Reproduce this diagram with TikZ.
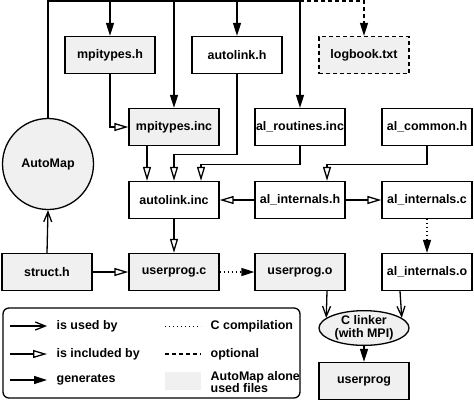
\documentclass[tikz,border=0pt]{standalone}
\usepackage{fontspec}
\setmainfont{Liberation Sans}
\usetikzlibrary{arrows.meta,shapes.geometric}

\definecolor{amgray}{gray}{0.94}

\begin{document}
\begin{tikzpicture}[
    x=1bp,
    y=-1bp,
    font=\fontsize{12.5}{14}\selectfont\bfseries,
    line width=1.3bp,
    file/.style={
        draw,
        minimum width=90bp,
        minimum height=37bp,
        inner sep=0pt
    },
    amfile/.style={file, fill=amgray},
    usedby/.style={-{Straight Barb[length=10bp,width=8bp]}},
    inclby/.style={-{Triangle[open,length=14bp,width=8bp,fill=white]}},
    gen/.style={-{Triangle[length=13bp,width=8bp]}},
    ccomp/.style={dash pattern=on 1bp off 3bp},
    optional/.style={dash pattern=on 4bp off 3bp},
    legtext/.style={anchor=west, inner sep=0pt}
]
\useasboundingbox (0,0) rectangle (474,400);

% Files, row by row
\node[amfile] (mpitypesh) at (110,55) {mpitypes.h};
\node[file] (autolinkh) at (237,55) {autolink.h};
\node[amfile,optional] (logbook) at (364,55) {logbook.txt};

\node[amfile] (mpitypesinc) at (174,127) {mpitypes.inc};
\node[file] (alroutines) at (300,127) {al\_routines.inc};
\node[file] (alcommon) at (427,127) {al\_common.h};

\node[file] (autolinkinc) at (174,200) {autolink.inc};
\node[file] (alinth) at (300,200) {al\_internals.h};
\node[file] (alintc) at (427,200) {al\_internals.c};

\node[amfile] (structh) at (47,272) {struct.h};
\node[amfile] (userprogc) at (174,272) {userprog.c};
\node[amfile] (userprogo) at (300,272) {userprog.o};
\node[file] (alinto) at (427,272) {al\_internals.o};

\node[amfile] (userprog) at (364,381) {userprog};

% AutoMap tool and the linker
\node[draw, circle, fill=amgray, minimum size=91bp, inner sep=0pt]
    (automap) at (48,164) {AutoMap};
\node[draw, ellipse, fill=amgray, minimum width=90bp, minimum height=34bp,
    inner sep=0pt, align=center, font=\fontsize{12.5}{13}\selectfont\bfseries]
    (clinker) at (364,328) {C linker\\(with MPI)};

% Files generated by AutoMap
\coordinate (topline) at (0,1);
\draw (automap.north) -- (automap.north |- topline)
    -- (alroutines.north |- topline);
\foreach \f in {mpitypesh,mpitypesinc,autolinkh,alroutines}
    \draw[gen] (\f.north |- topline) -- (\f.north);
\draw[gen,optional] (alroutines.north |- topline) -| (logbook.north);

% Includes
\draw[inclby] (mpitypesh.south) |- (mpitypesinc.west);
\draw[inclby] ([xshift=-27bp]mpitypesinc.south)
    -- ([xshift=-27bp]autolinkinc.north);
\draw[inclby] (autolinkh.south) -- ++(0,80) -| (autolinkinc.north);
\draw[inclby] (alroutines.south) -- ++(0,18)
    -| ([xshift=27bp]autolinkinc.north);
\draw[inclby] (alcommon.south) -- ++(0,18)
    -| ([xshift=27bp]alinth.north);
\draw[inclby] (alinth.west) -- (autolinkinc.east);
\draw[inclby] (alinth.east) -- (alintc.west);
\draw[inclby] (autolinkinc.south) -- (userprogc.north);
\draw[inclby] (structh.east) -- (userprogc.west);

% Usage
\draw[usedby] (structh.north) -- (automap.south);
\draw[usedby] ([xshift=27bp]userprogo.south) -- (clinker.165);
\draw[usedby] ([xshift=-27bp]alinto.south) -- (clinker.15);

% Compilation and linking
\draw[gen,ccomp] (userprogc.east) -- (userprogo.west);
\draw[gen,ccomp] (alintc.south) -- (alinto.north);
\draw[gen] (clinker.south) -- (userprog.north);

% Legend
\node[draw, rounded corners=6bp, minimum width=297bp, minimum height=90bp,
    inner sep=0pt] (legend) at (151.5,353) {};

\node[legtext] (lgused) at (56,326) {is used by};
\node[legtext] (lgincl) at (56,354) {is included by};
\node[legtext] (lggen) at (56,380) {generates};
\draw[usedby] ([xshift=-46bp]lgused.west) -- ([xshift=-9bp]lgused.west);
\draw[inclby] ([xshift=-46bp]lgincl.west) -- ([xshift=-9bp]lgincl.west);
\draw[gen] ([xshift=-46bp]lggen.west) -- ([xshift=-9bp]lggen.west);

\node[legtext] (lgcomp) at (210,326) {C compilation};
\node[legtext] (lgopt) at (210,354) {optional};
\node[legtext, align=left, font=\fontsize{12.5}{9}\selectfont\bfseries]
    (lgalone) at (210,382) {AutoMap alone\\used files};
\draw[ccomp, line width=0.6bp] ([xshift=-45bp]lgcomp.west)
    -- ([xshift=-9bp]lgcomp.west);
\draw[optional] ([xshift=-45bp]lgopt.west) -- ([xshift=-9bp]lgopt.west);
\node[fill=amgray, minimum width=36bp, minimum height=18bp, inner sep=0pt]
    (lgbox) at (183,381) {};

\end{tikzpicture}
\end{document}
